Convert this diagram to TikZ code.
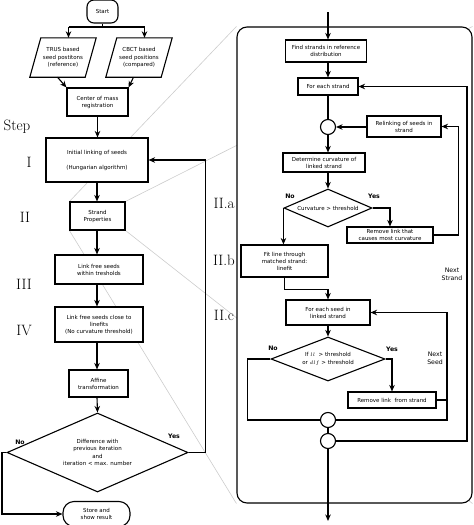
\documentclass[tikz,border=0pt]{standalone}
\usepackage{fontspec}
\setsansfont{DejaVu Sans}
\usetikzlibrary{arrows.meta,shapes.geometric,calc}
\pgfdeclarelayer{back}
\pgfdeclarelayer{mid}
\pgfsetlayers{back,mid,main}
\begin{document}
\begin{tikzpicture}[x=1pt,y=-1pt,
  every node/.style={inner sep=0pt},
  box/.style={draw, fill=white, line width=1.1pt, align=center, font=\sffamily\fontsize{5.5}{7}\selectfont},
  plain/.style={align=center, font=\sffamily\fontsize{5.5}{7.5}\selectfont},
  dia/.style={diamond, shape aspect=2.3, draw, fill=white, line width=1.1pt, align=center, font=\sffamily\fontsize{5.5}{7.5}\selectfont},
  circ/.style={circle, draw, fill=white, line width=1.1pt, minimum size=15pt},
  flow/.style={line width=1.1pt},
  arr/.style={flow, -{Stealth[length=6.5pt,width=5.5pt]}},
  yn/.style={font=\sffamily\bfseries\fontsize{6.2}{7}\selectfont},
  lbl/.style={align=center, font=\sffamily\fontsize{6.2}{8}\selectfont},
  steplbl/.style={font=\fontsize{15}{16}\selectfont},
  zoomline/.style={draw=gray!40, line width=0.6pt}
]
\useasboundingbox (0,0) rectangle (474,525);

% ---------- left column ----------
\node[box, minimum width=31pt, minimum height=23pt, rounded corners=7pt] (start) at (102.5,11.5) {Start};
\coordinate (br) at (102.5,27);

\node[plain, minimum width=55pt, minimum height=39pt] (p1) at (63,57.5) {TRUS based\\seed postitons\\(reference)};
\draw[flow, fill=white] ([xshift=5.5pt]p1.north west) -- ([xshift=5.5pt]p1.north east) -- ([xshift=-5.5pt]p1.south east) -- ([xshift=-5.5pt]p1.south west) -- cycle;
\node[plain] at (p1) {TRUS based\\seed postitons\\(reference)};

\node[plain, minimum width=55pt, minimum height=39pt] (p2) at (139,57.5) {CBCT based\\seed positions\\(compared)};
\draw[flow, fill=white] ([xshift=5.5pt]p2.north west) -- ([xshift=5.5pt]p2.north east) -- ([xshift=-5.5pt]p2.south east) -- ([xshift=-5.5pt]p2.south west) -- cycle;
\node[plain] at (p2) {CBCT based\\seed positions\\(compared)};

\draw[flow] (start.south) -- (br);
\draw[flow] ([xshift=5.5pt]p1.north |- br) -- ([xshift=5.5pt]p2.north |- br);
\draw[arr] ([xshift=5.5pt]p1.north |- br) -- ([xshift=5.5pt]p1.north);
\draw[arr] ([xshift=5.5pt]p2.north |- br) -- ([xshift=5.5pt]p2.north);

\node[box, minimum width=61pt, minimum height=28pt] (com) at (97.5,102) {Center of mass\\registration};
\draw[arr] ([xshift=-5.5pt]p1.south) -- (com.north west);
\draw[arr] ([xshift=-5.5pt]p2.south) -- (com.north east);

\node[box, minimum width=102pt, minimum height=44pt] (init) at (97,160) {Initial linking of seeds\\[8pt](Hungarian algorithm)};
\node[box, minimum width=55pt, minimum height=28pt] (strand) at (97.5,216) {Strand\\Properties};
\node[box, minimum width=88pt, minimum height=29pt] (link1) at (99,269.5) {Link free seeds\\within tresholds};
\node[box, minimum width=88pt, minimum height=35pt] (link2) at (99,324.5) {Link free seeds close to\\linefits\\(No curvature threshold)};
\node[box, minimum width=59pt, minimum height=27pt] (affine) at (98.5,383.5) {Affine\\transformation};
\node[dia, minimum width=181pt, minimum height=79pt] (diff) at (97.5,452.5) {Difference with\\previous iteration\\and\\iteration < max. number};
\node[box, rounded corners=11pt, minimum width=67pt, minimum height=25pt] (store) at (96.5,514) {Store and\\show result};

\draw[arr] (com.south) -- (com.south |- init.north);
\draw[arr] (init.south) -- (init.south |- strand.north);
\draw[arr] (init.south |- strand.south) -- (init.south |- link1.north);
\draw[arr] (init.south |- link1.south) -- (init.south |- link2.north);
\draw[arr] (init.south |- link2.south) -- (init.south |- affine.north);
\draw[arr] (init.south |- affine.south) -- (diff.north);
\draw[arr] (diff.east) -- ++(17,0) |- (init.east);
\draw[arr] (diff.west) -- ++(-4.5,0) |- (store.west);

\node[yn] (no1) at (20,442) {No};
\node[yn] (yes1) at (174,436) {Yes};

\node[steplbl] (lstep) at (17,127) {Step};
\node[steplbl] (lI) at (29,162) {I};
\node[steplbl] (lII) at (25,217) {II};
\node[steplbl] (lIII) at (24,284) {III};
\node[steplbl] (lIV) at (24,330) {IV};

% ---------- right panel ----------
\begin{pgfonlayer}{mid}
\node[draw, fill=white, rounded corners=10pt, line width=1.1pt, minimum width=235pt, minimum height=476pt] (panel) at (354.5,265) {};
\end{pgfonlayer}
\begin{pgfonlayer}{back}
\draw[zoomline] (strand.north west) -- (panel.north west);
\draw[zoomline] (strand.north east) -- (panel.north east);
\draw[zoomline] (strand.south west) -- (panel.south west);
\draw[zoomline] (strand.south east) -- (panel.south east);
\end{pgfonlayer}

\node[steplbl] (lIIa) at (224,203) {II.a};
\node[steplbl] (lIIb) at (224,260) {II.b};
\node[steplbl] (lIIc) at (224,315) {II.c};

\coordinate (topin) at (328,12);
\node[box, minimum width=81pt, minimum height=22pt] (find) at (326,51) {Find strands in reference\\distribution};
\draw[arr] (topin) -- (topin |- find.north);
\node[box, minimum width=60pt, minimum height=17pt] (fstrand) at (328,86.5) {For each strand};
\draw[arr] (find.south -| fstrand.north) -- (fstrand.north);
\node[circ] (c1) at (328,127) {};
\draw[flow] (fstrand.south) -- (c1.north);
\node[box, minimum width=74pt, minimum height=21pt] (relink) at (404,126.5) {Relinking of seeds in\\strand};
\draw[arr] (relink.west |- c1) -- (c1.east);
\node[box, minimum width=82pt, minimum height=19pt] (curv) at (324,162.5) {Determine curvature of\\linked strand};
\draw[arr] (c1.south) -- (c1.south |- curv.north);
\node[dia, minimum width=88pt, minimum height=38pt] (d1) at (328,208) {Curvature > threshold};
\draw[arr] (c1 |- curv.south) -- (d1.north);
\node[box, minimum width=86pt, minimum height=16pt] (rem1) at (390,235) {Remove link that\\causes most curvature};
\draw[arr] (d1.east) -| (rem1.north);
\draw[arr] (rem1.east) -- ++(25,0) |- (relink.east);
\node[box, minimum width=87pt, minimum height=32pt] (fit) at (284.5,261) {Fit line through\\matched strand:\\linefit};
\draw[arr] (d1.west) -- (d1.west |- fit.north);
\node[box, minimum width=84pt, minimum height=25pt] (fseed) at (328,312.5) {For each seed in\\linked strand};
\draw[arr] (fit.south) -- ++(0,12) -| (fseed.north);
\node[dia, minimum width=114pt, minimum height=44pt] (d2) at (328,359) {If $ll$\ \ > threshold\\or $dlf$ > threshold};
\draw[arr] (fseed.south) -- (d2.north);
\node[box, minimum width=88pt, minimum height=16pt] (rem2) at (392,400) {Remove link\ \ from strand};
\draw[arr] (d2.east) -| (rem2.north);
\node[circ] (c2) at (328,420) {};
\node[circ] (c3) at (328,441) {};
\draw[flow] (d2.west) -- ++(-23,0) |- (c2.west);
\coordinate (seedloop) at (447,420);
\draw[arr] (c2.east) -- (seedloop) |- (fseed.east);
\draw[flow] (rem2.east) -- (rem2.east -| seedloop);
\draw[flow] (c2.south) -- (c3.north);
\coordinate (strandloop) at (467,441);
\draw[arr] (c3.east) -- (strandloop) |- (fstrand.east);
\coordinate (out) at (328,521);
\draw[arr] (c3.south) -- (out);

\node[yn] (no2) at (290,196) {No};
\node[yn] (yes2) at (374,196) {Yes};
\node[yn] (no3) at (273,348) {No};
\node[yn] (yes3) at (392,349) {Yes};
\node[lbl] (nstrand) at (452,274) {Next\\Strand};
\node[lbl] (nseed) at (435,358) {Next\\Seed};
\end{tikzpicture}
\end{document}
